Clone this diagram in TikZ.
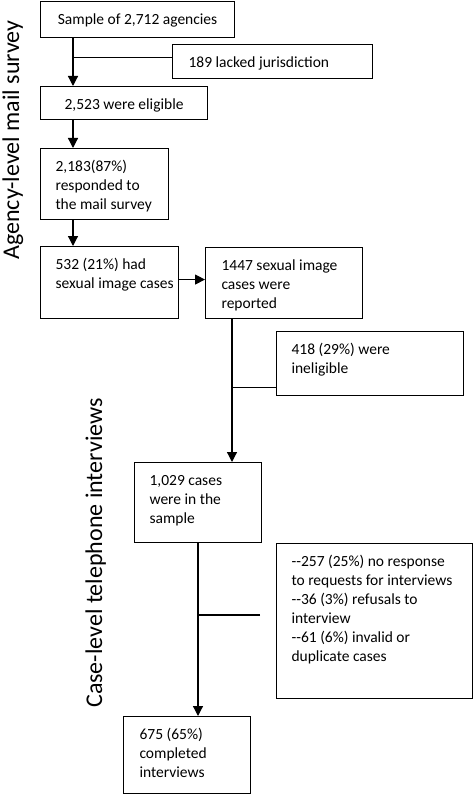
\documentclass[tikz,border=0pt]{standalone}
\usepackage{fontspec}
\setmainfont{Carlito}
\usetikzlibrary{arrows.meta}
\newcommand\bx[4]{\parbox[c][#2][t]{#1}{\leftskip=#4\rightskip=0pt plus 1fil\parfillskip=0pt plus 1fil\rule{0pt}{23pt}#3}}
\newcommand\bxc[3]{\parbox[c][#2][t]{#1}{\centering\rule{0pt}{23pt}#3}}
\newcommand\dd{\mbox{-}\mbox{-}}
\tikzset{
  box/.style={draw, line width=1.1pt, anchor=north west, inner sep=0pt, align=left},
  conn/.style={line width=1.2pt},
  arr/.style={line width=1.2pt, -{Triangle[width=10pt,length=10pt]}},
  sidelabel/.style={rotate=90, anchor=base, font=\fontsize{24}{28}\selectfont, inner sep=0pt}
}
\begin{document}
\begin{tikzpicture}[x=1pt,y=-1pt,font=\fontsize{15.5}{19}\selectfont]
\useasboundingbox (0,0) rectangle (474,794);
% boxes
\node[box] (b1) at (40,1) {\bxc{194pt}{36pt}{Sample of 2,712 agencies}};
\node[box] (b2) at (172,44) {\bx{200pt}{34pt}{189 lacked jurisdiction}{16pt}};
\node[box] (b3) at (40,86) {\bxc{167pt}{33pt}{2,523 were eligible}};
\node[box] (b4) at (40,148) {\bx{128pt}{71pt}{2,183(87\%)\\responded to\\the mail survey}{15pt}};
\node[box] (b5) at (40,246) {\bx{138pt}{72pt}{532 (21\%) had\\sexual image cases}{15pt}};
\node[box] (b6) at (205,247) {\bx{157pt}{71pt}{1447 sexual image\\cases were\\reported}{16pt}};
\node[box] (b8) at (276,331) {\bx{187pt}{64pt}{418 (29\%) were\\ineligible}{15pt}};
\node[box] (b7) at (134,462) {\bx{127pt}{80pt}{1,029 cases\\were in the\\sample}{15pt}};
\node[box] (b10) at (276,543) {\bx{196pt}{155pt}{\dd257 (25\%) no response\\to requests for interviews\\\dd36 (3\%) refusals to\\interview\\\dd61 (6\%) invalid or\\duplicate cases}{15pt}};
\node[box] (b9) at (123,716) {\bx{127pt}{77pt}{675 (65\%)\\completed\\interviews}{16pt}};
% side labels
\node[sidelabel] (l1) at (19,140) {Agency-level mail survey};
\node[sidelabel] (l2) at (102,553) {Case-level telephone interviews};
% connector columns
\coordinate (c1) at (73,0);
\coordinate (c2) at (232,0);
\coordinate (c3) at (198,0);
\coordinate (e1) at (260,615);
% connectors
\draw[arr] (b1.south -| c1) -- (b3.north -| c1);
\draw[conn] ([yshift=4pt]b2.west) -- ([yshift=4pt]b2.west -| c1);
\draw[arr] (b3.south -| c1) -- (b4.north -| c1);
\draw[arr] (b4.south -| c1) -- (b5.north -| c1);
\draw[arr] ([yshift=3pt]b5.east) -- ([yshift=3pt]b5.east -| b6.west);
\draw[arr] (b6.south -| c2) -- (b7.north -| c2);
\draw[conn] ([yshift=-24pt]b8.west) -- ([yshift=-24pt]b8.west -| c2);
\draw[arr] (b7.south -| c3) -- (b9.north -| c3);
\draw[conn] (e1) -- (e1 -| c3);
\end{tikzpicture}
\end{document}
